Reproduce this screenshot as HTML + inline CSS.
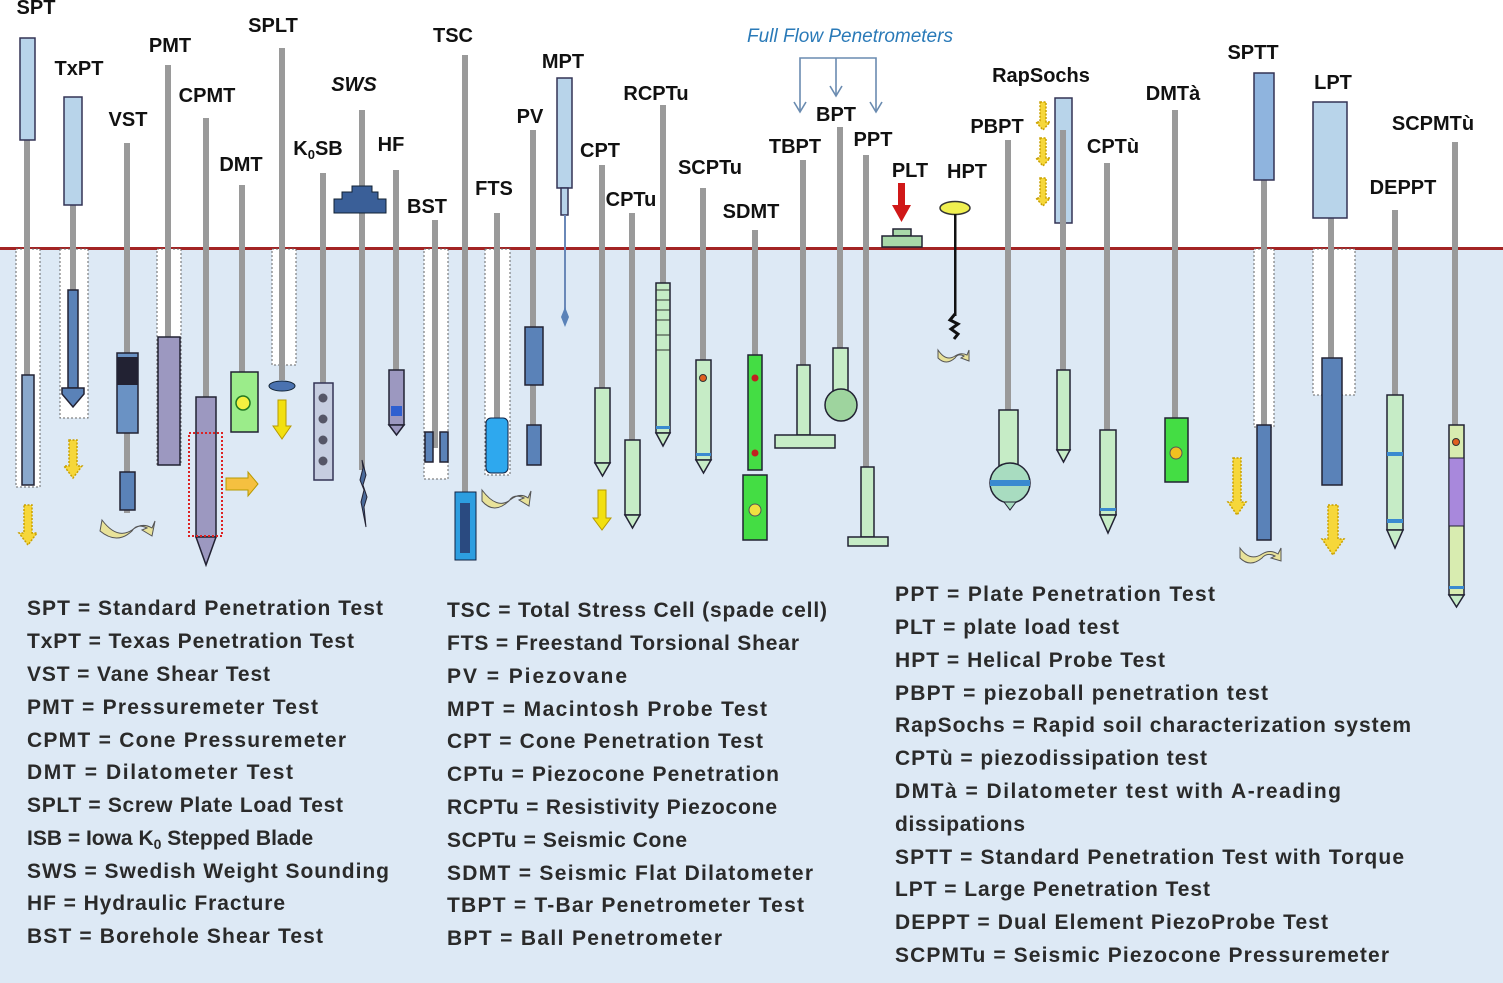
<!DOCTYPE html>
<html><head><meta charset="utf-8"><style>
html,body{margin:0;padding:0;background:#fff}
svg{display:block}
.lb{font-family:"Liberation Sans",sans-serif;font-weight:bold;font-size:20px;fill:#111;text-anchor:middle}
.lg{font-family:"Liberation Sans",sans-serif;font-size:21px;font-weight:bold;fill:#2a2a2a}
.rod{fill:#9a9a9a}
.bh{fill:#fff;stroke:#666;stroke-width:1;stroke-dasharray:2 2}
.tube{fill:#b8d4ea;stroke:#335;stroke-width:1.5}
.blue{fill:#5a82b8;stroke:#223;stroke-width:1.5}
.purp{fill:#9c98c0;stroke:#223;stroke-width:1.5}
.grn{fill:#c6ecc6;stroke:#223;stroke-width:1.5}
.lgrn{fill:#44dd44;stroke:#223;stroke-width:1.5}
.ya{fill:#f6d73a;stroke:#c9a000;stroke-width:1.5;stroke-dasharray:2 1.5}
.ys{fill:#f2e010;stroke:#b89a00;stroke-width:1}
.rot{fill:#e8e29a;stroke:#555;stroke-width:1}
</style></head><body>
<svg width="1503" height="983" viewBox="0 0 1503 983">
<rect x="0" y="0" width="1503" height="248" fill="#fff"/>
<rect x="0" y="248" width="1503" height="735" fill="#dde9f5"/>
<rect x="0" y="247" width="1503" height="3" fill="#a32424"/>

<g>
<rect class="bh" x="16" y="249" width="24" height="238"/>
<rect class="rod" x="24" y="38" width="6" height="447"/>
<rect class="tube" x="20" y="38" width="15" height="102"/>
<rect class="blue" x="22" y="375" width="12" height="110" style="fill:#8aa8cc"/>
<path class="ya" d="M24 505h8v28h5l-9 12-9-12h5z"/>
<text class="lb" x="36" y="14">SPT</text></g>
<g>
<rect class="bh" x="60" y="249" width="28" height="169"/>
<rect class="rod" x="70" y="97" width="6" height="200"/>
<rect class="tube" x="64" y="97" width="18" height="108"/>
<rect class="blue" x="68" y="290" width="10" height="98"/>
<path class="blue" d="M62 388h22v6l-11 13-11-13z"/>
<path class="ya" d="M69 440h8v26h5l-9 12-9-12h5z"/>
<text class="lb" x="79" y="75">TxPT</text></g>
<g>
<rect class="rod" x="124" y="143" width="6" height="370"/>
<rect class="blue" x="117" y="353" width="21" height="80" style="fill:#6a92c4"/>
<rect x="117" y="357" width="21" height="28" fill="#223"/>
<rect class="blue" x="120" y="472" width="15" height="38"/>
<path class="rot" d="M102 520q15 20 30 10q10-8 20-2l3-7-3 15-10-6 5-2q-10-5-15 3q-15 14-32 0z"/>
<text class="lb" x="128" y="126">VST</text></g>
<g>
<rect class="bh" x="157" y="249" width="24" height="216"/>
<rect class="rod" x="165" y="65" width="6" height="275"/>
<rect class="purp" x="158" y="337" width="22" height="128"/>
<text class="lb" x="170" y="52">PMT</text></g>
<g>
<rect class="rod" x="203" y="118" width="6" height="282"/>
<rect class="purp" x="196" y="397" width="20" height="140"/>
<path class="purp" d="M196 537h20l-10 28z"/>
<rect x="189" y="433" width="33" height="103" fill="none" stroke="#d22" stroke-width="2" stroke-dasharray="2 2"/>
<path class="ys" d="M226 478h22v-6l10 12-10 12v-6h-22z" style="fill:#f5c040"/>
<text class="lb" x="207" y="102">CPMT</text></g>
<g>
<rect class="rod" x="239" y="185" width="6" height="188"/>
<rect class="lgrn" x="231" y="372" width="27" height="60" style="fill:#9bec8a"/>
<circle cx="243" cy="403" r="7" fill="#f4f040" stroke="#272" stroke-width="1.5"/>
<text class="lb" x="241" y="171">DMT</text></g>
<g>
<rect class="bh" x="272" y="249" width="24" height="116"/>
<rect class="rod" x="279" y="48" width="6" height="332"/>
<ellipse cx="282" cy="386" rx="13" ry="5" fill="#4a72b0" stroke="#123"/>
<path class="ys" d="M278 400h8v26h5l-9 13-9-13h5z"/>
<text class="lb" x="273" y="32">SPLT</text></g>
<g>
<rect class="rod" x="320" y="173" width="6" height="210"/>
<rect class="tube" x="314" y="383" width="19" height="97" style="fill:#c6cde0"/>
<circle cx="323" cy="398" r="4.5" fill="#556"/><circle cx="323" cy="419" r="4.5" fill="#556"/><circle cx="323" cy="440" r="4.5" fill="#556"/><circle cx="323" cy="461" r="4.5" fill="#556"/>
<text class="lb" x="318" y="155">K<tspan font-size="13" dy="4">0</tspan><tspan dy="-4">SB</tspan></text></g>
<g>
<rect class="rod" x="359" y="110" width="6" height="360"/>
<path d="M352 186h20v6h6v7h8v14h-52v-14h8v-7h10z" fill="#3a5f98" stroke="#123"/>
<path d="M362 460l4 15-3 10 4 12-3 10 2 20-5-25 3-12-4-10 3-12z" fill="#4a6a9a" stroke="#223"/>
<text class="lb" x="354" y="91" font-style="italic">SWS</text></g>
<g>
<rect class="rod" x="393" y="170" width="6" height="200"/>
<rect class="purp" x="389" y="370" width="15" height="55"/>
<path class="purp" d="M389 425h15l-7.5 10z"/>
<rect x="391" y="406" width="11" height="10" fill="#2f5fd0"/>
<text class="lb" x="391" y="151">HF</text></g>
<g>
<rect class="bh" x="424" y="249" width="24" height="230"/>
<rect class="rod" x="432" y="220" width="6" height="228"/>
<rect class="blue" x="425" y="432" width="8" height="30"/><rect class="blue" x="440" y="432" width="8" height="30"/>
<text class="lb" x="427" y="213">BST</text></g>
<g>
<rect class="rod" x="462" y="55" width="6" height="440"/>
<rect x="455" y="492" width="21" height="68" fill="#2d9ee0" stroke="#124"/>
<rect x="460" y="503" width="10" height="50" fill="#2a4a80"/>
<text class="lb" x="453" y="42">TSC</text></g>
<g>
<rect class="bh" x="485" y="249" width="25" height="226"/>
<rect class="rod" x="494" y="213" width="6" height="210"/>
<rect x="486" y="418" width="22" height="55" rx="5" fill="#2ea8ee" stroke="#124"/>
<path class="rot" d="M482 490q15 20 28 10q10-8 18-2l3-7-2 15-10-6 5-2q-10-5-15 3q-15 14-27 0z"/>
<text class="lb" x="494" y="195">FTS</text></g>
<g>
<rect class="rod" x="530" y="130" width="6" height="335"/>
<rect class="blue" x="525" y="327" width="18" height="58"/>
<rect class="blue" x="527" y="425" width="14" height="40"/>
<text class="lb" x="530" y="123">PV</text></g>
<g>
<rect class="tube" x="557" y="78" width="15" height="110"/>
<rect class="tube" x="561" y="188" width="7" height="27"/>
<rect x="564" y="215" width="2" height="95" fill="#6a88b8"/>
<path d="M565 307l4 10-4 10-4-10z" fill="#5a82b8"/>
<text class="lb" x="563" y="68">MPT</text></g>
<g>
<rect class="rod" x="599" y="165" width="6" height="225"/>
<rect class="grn" x="595" y="388" width="15" height="75"/>
<path class="grn" d="M595 463h15l-7.5 13z"/>
<path class="ys" d="M598 490h8v28h5l-9 12-9-12h5z"/>
<text class="lb" x="600" y="157">CPT</text></g>
<g>
<rect class="rod" x="629" y="213" width="6" height="230"/>
<rect class="grn" x="625" y="440" width="15" height="75"/>
<path class="grn" d="M625 515h15l-7.5 13z"/>
<text class="lb" x="631" y="206">CPTu</text></g>
<g>
<rect class="rod" x="660" y="105" width="6" height="180"/>
<rect class="grn" x="656" y="283" width="14" height="150"/>
<path d="M656 290h14M656 300h14M656 310h14M656 320h14M656 335h14M656 350h14" stroke="#333"/>
<rect x="656" y="426" width="14" height="3" fill="#3a8ad0"/>
<path class="grn" d="M656 433h14l-7 13z"/>
<text class="lb" x="656" y="100">RCPTu</text></g>
<g>
<rect class="rod" x="700" y="188" width="6" height="175"/>
<rect class="grn" x="696" y="360" width="15" height="100"/>
<circle cx="703" cy="378" r="3.5" fill="#e06020" stroke="#333"/>
<rect x="696" y="453" width="15" height="3" fill="#3a8ad0"/>
<path class="grn" d="M696 460h15l-7.5 13z"/>
<text class="lb" x="710" y="174">SCPTu</text></g>
<g>
<rect class="rod" x="752" y="230" width="6" height="130"/>
<rect class="lgrn" x="748" y="355" width="14" height="115"/>
<circle cx="755" cy="378" r="3.5" fill="#c02020"/><circle cx="755" cy="453" r="3.5" fill="#c02020"/>
<rect class="lgrn" x="743" y="475" width="24" height="65"/>
<circle cx="755" cy="510" r="6" fill="#f0e040" stroke="#555"/>
<text class="lb" x="751" y="218">SDMT</text></g>
<g stroke="#6a8bb0" stroke-width="1.6" fill="none">
<path d="M800 112V58h76v54M836 58v38"/>
<path d="M794 102l6 10 6-10M830 86l6 10 6-10M870 102l6 10 6-10"/>
</g>
<text x="850" y="42" font-family="Liberation Sans,sans-serif" font-style="italic" font-size="19" fill="#2a7ab8" text-anchor="middle">Full Flow Penetrometers</text>
<g>
<rect class="rod" x="800" y="160" width="6" height="205"/>
<rect class="grn" x="797" y="365" width="13" height="70"/>
<rect class="grn" x="775" y="435" width="60" height="13"/>
<text class="lb" x="795" y="153">TBPT</text></g>
<g>
<rect class="rod" x="837" y="127" width="6" height="222"/>
<rect class="grn" x="833" y="348" width="15" height="45"/>
<circle cx="841" cy="405" r="16" fill="#9ed49e" stroke="#223" stroke-width="1.5"/>
<text class="lb" x="836" y="121">BPT</text></g>
<g>
<rect class="rod" x="863" y="155" width="6" height="314"/>
<rect class="grn" x="861" y="467" width="13" height="70"/>
<rect class="grn" x="848" y="537" width="40" height="9"/>
<text class="lb" x="873" y="146">PPT</text></g>
<g>
<path d="M898 183h7v22h6l-9.5 17-9.5-17h6z" fill="#d01818"/>
<rect class="grn" x="893" y="229" width="18" height="7" style="fill:#a8d8a8"/>
<rect class="grn" x="882" y="236" width="40" height="11" style="fill:#a8d8a8"/>
<text class="lb" x="910" y="177">PLT</text></g>
<g>
<ellipse cx="955" cy="208" rx="15" ry="6.5" fill="#f0f050" stroke="#333" stroke-width="1.5"/>
<rect x="954" y="214" width="2.5" height="102" fill="#111"/>
<path d="M955 314l-5 6 8 4-7 5 7 5-4 5" stroke="#111" stroke-width="3" fill="none"/>
<path class="rot" d="M938 350q8 12 17 6q6-4 12-1l2-5 0 11-8-3 3-2q-6-3-9 2q-9 8-17 0z"/>
<text class="lb" x="967" y="178">HPT</text></g>
<g>
<rect class="rod" x="1005" y="140" width="6" height="272"/>
<rect class="grn" x="999" y="410" width="19" height="60"/>
<circle cx="1010" cy="483" r="20" fill="#a8dcc0" stroke="#223" stroke-width="1.5"/>
<rect x="990" y="480" width="40" height="6" fill="#3a8ad0"/>
<path d="M1004 502h12l-6 8z" fill="#a8dcc0" stroke="#223"/>
<text class="lb" x="997" y="133">PBPT</text></g>
<g>
<rect class="tube" x="1055" y="98" width="17" height="125"/>
<rect class="rod" x="1060" y="130" width="6" height="242"/>
<rect class="grn" x="1057" y="370" width="13" height="80"/>
<path class="grn" d="M1057 450h13l-6.5 12z"/>
<path class="ya" d="M1040 102h6v20h4l-7 8-7-8h4zM1040 138h6v20h4l-7 8-7-8h4zM1040 178h6v20h4l-7 8-7-8h4z"/>
<text class="lb" x="1041" y="82">RapSochs</text></g>
<g>
<rect class="rod" x="1104" y="163" width="6" height="270"/>
<rect class="grn" x="1100" y="430" width="16" height="85"/>
<rect x="1100" y="508" width="16" height="3" fill="#3a8ad0"/>
<path class="grn" d="M1100 515h16l-8 18z"/>
<text class="lb" x="1113" y="153">CPTù</text></g>
<g>
<rect class="rod" x="1172" y="110" width="6" height="310"/>
<rect class="lgrn" x="1165" y="418" width="23" height="64"/>
<circle cx="1176" cy="453" r="6" fill="#f0c020" stroke="#555"/>
<text class="lb" x="1173" y="100">DMTà</text></g>
<g>
<rect class="bh" x="1254" y="249" width="20" height="178"/>
<rect class="rod" x="1261" y="130" width="6" height="298"/>
<rect class="tube" x="1254" y="73" width="20" height="107" style="fill:#8fb4de"/>
<rect class="blue" x="1257" y="425" width="14" height="115"/>
<path class="ya" d="M1233 458h8v44h5l-9 13-9-13h5z"/>
<path class="rot" d="M1240 548q10 14 22 6q8-5 16 0l3-6 0 13-10-3 4-2q-8-4-13 2q-12 10-22 0z"/>
<text class="lb" x="1253" y="59">SPTT</text></g>
<g>
<rect class="bh" x="1313" y="249" width="42" height="146"/>
<rect class="rod" x="1328" y="150" width="6" height="210"/>
<rect class="tube" x="1313" y="102" width="34" height="116"/>
<rect class="blue" x="1322" y="358" width="20" height="127"/>
<path class="ya" d="M1328 505h10v34h6l-11 16-11-16h6z"/>
<text class="lb" x="1333" y="89">LPT</text></g>
<g>
<rect class="rod" x="1392" y="210" width="6" height="188"/>
<rect class="grn" x="1387" y="395" width="16" height="135"/>
<rect x="1387" y="452" width="16" height="4" fill="#3a8ad0"/><rect x="1387" y="519" width="16" height="4" fill="#3a8ad0"/>
<path class="grn" d="M1387 530h16l-8 18z"/>
<text class="lb" x="1403" y="194">DEPPT</text></g>
<g>
<rect class="rod" x="1452" y="142" width="6" height="285"/>
<rect class="grn" x="1449" y="425" width="15" height="170" style="fill:#d8ecb0"/>
<rect x="1449" y="458" width="15" height="68" fill="#a888dc" stroke="#223"/>
<circle cx="1456" cy="442" r="3.5" fill="#e06020" stroke="#333"/>
<rect x="1449" y="586" width="15" height="3" fill="#3a8ad0"/>
<path class="grn" d="M1449 595h15l-7.5 12z"/>
<text class="lb" x="1433" y="130">SCPMTù</text></g>

<g>
<text class="lg" x="27" y="615" textLength="356">SPT = Standard Penetration Test</text>
<text class="lg" x="27" y="648" textLength="327">TxPT = Texas Penetration Test</text>
<text class="lg" x="27" y="681" textLength="243">VST = Vane Shear Test</text>
<text class="lg" x="27" y="714" textLength="291">PMT = Pressuremeter Test</text>
<text class="lg" x="27" y="747" textLength="319">CPMT = Cone Pressuremeter</text>
<text class="lg" x="27" y="779" textLength="266">DMT = Dilatometer Test</text>
<text class="lg" x="27" y="812" textLength="316">SPLT = Screw Plate Load Test</text>
<text class="lg" x="27" y="845">ISB = Iowa K<tspan font-size="14" dy="4">0</tspan><tspan dy="-4"> Stepped Blade</tspan></text>
<text class="lg" x="27" y="878" textLength="362">SWS = Swedish Weight Sounding</text>
<text class="lg" x="27" y="910" textLength="258">HF = Hydraulic Fracture</text>
<text class="lg" x="27" y="943" textLength="296">BST = Borehole Shear Test</text>
</g>
<g>
<text class="lg" x="447" y="617" textLength="380">TSC  = Total Stress Cell (spade cell)</text>
<text class="lg" x="447" y="650" textLength="352">FTS = Freestand Torsional Shear</text>
<text class="lg" x="447" y="683" textLength="180">PV   = Piezovane</text>
<text class="lg" x="447" y="716" textLength="320">MPT = Macintosh Probe Test</text>
<text class="lg" x="447" y="748" textLength="316">CPT = Cone Penetration Test</text>
<text class="lg" x="447" y="781" textLength="332">CPTu = Piezocone Penetration</text>
<text class="lg" x="447" y="814" textLength="330">RCPTu = Resistivity Piezocone</text>
<text class="lg" x="447" y="847" textLength="240">SCPTu = Seismic Cone</text>
<text class="lg" x="447" y="880" textLength="366">SDMT = Seismic Flat Dilatometer</text>
<text class="lg" x="447" y="912" textLength="357">TBPT = T-Bar Penetrometer Test</text>
<text class="lg" x="447" y="945" textLength="275">BPT = Ball Penetrometer</text>
</g>
<g>
<text class="lg" x="895" y="601" textLength="320">PPT  = Plate Penetration Test</text>
<text class="lg" x="895" y="634" textLength="224">PLT = plate load test</text>
<text class="lg" x="895" y="667" textLength="270">HPT = Helical Probe Test</text>
<text class="lg" x="895" y="700" textLength="373">PBPT = piezoball penetration test</text>
<text class="lg" x="895" y="732" textLength="516">RapSochs = Rapid soil characterization  system</text>
<text class="lg" x="895" y="765" textLength="312">CPTù = piezodissipation  test</text>
<text class="lg" x="895" y="798" textLength="446">DMTà = Dilatometer test with A-reading</text>
<text class="lg" x="895" y="831" textLength="130">dissipations</text>
<text class="lg" x="895" y="864" textLength="509">SPTT = Standard  Penetration Test with Torque</text>
<text class="lg" x="895" y="896" textLength="315">LPT = Large Penetration Test</text>
<text class="lg" x="895" y="929" textLength="433">DEPPT = Dual Element PiezoProbe Test</text>
<text class="lg" x="895" y="962" textLength="494">SCPMTu = Seismic Piezocone Pressuremeter</text>
</g>
</svg>
</body></html>
